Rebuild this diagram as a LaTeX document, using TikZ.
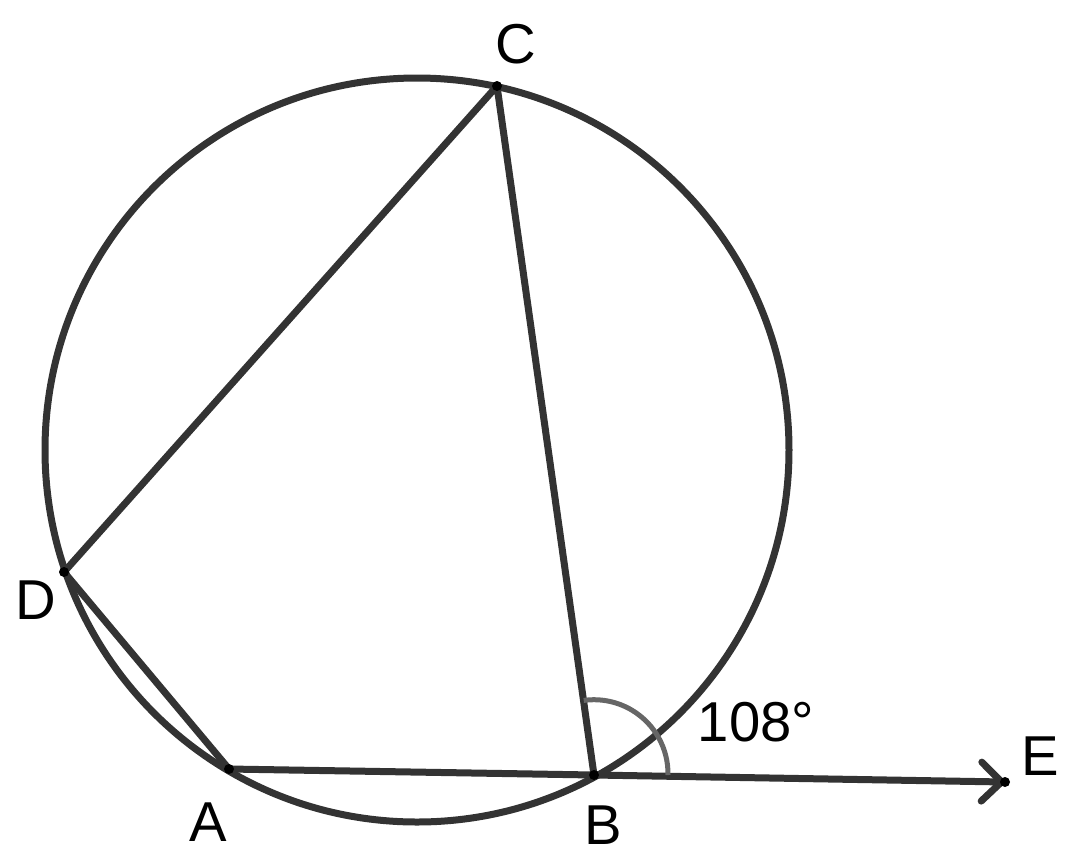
\documentclass[tikz,border=0pt]{standalone}
\usepackage{fontspec}
\setmainfont{Liberation Sans}
\usetikzlibrary{calc}
\usetikzlibrary{arrows.meta}
\definecolor{edgegray}{RGB}{51,51,51}
\definecolor{anglegray}{RGB}{102,102,102}

\begin{document}
\begin{tikzpicture}[x=0.02cm, y=-0.02cm, font=\fontsize{32}{38}\selectfont,
    edge/.style={edgegray, line width=0.14cm, line join=round},
    dot/.style={fill=black}]
    \useasboundingbox (0,0) rectangle (1066,867);
    
    \coordinate (O) at (417,450);
    \coordinate (C) at (497,86);
    \coordinate (D) at (64,572);
    \coordinate (A) at (229,769);
    \coordinate (B) at (594,775);
    \coordinate (E) at (1005,782);
    
    \draw[edge] (O) circle (372);
    
    \draw[edge] (D) -- (C) -- (B);
    \draw[edge] (D) -- (A) -- (B);
    \draw[edge, -{Straight Barb[length=0.4cm, width=0.78cm, round]}] (B) -- (E);
    
    \draw[anglegray, line width=0.1cm] ($(B)+(74,0)$) arc[start angle=1, end angle=-98, radius=74];
    
    \foreach \p in {A,B,C,D,E}
        \fill[dot] (\p) circle (5);
    
    \node (labC) at (516,44) {C};
    \node (labD) at (36,600) {D};
    \node (labA) at (208,822) {A};
    \node (labB) at (603,825) {B};
    \node (labE) at (1040,756) {E};
    \node (labAngle) at (756,722) {108°};
    
\end{tikzpicture}
\end{document}
